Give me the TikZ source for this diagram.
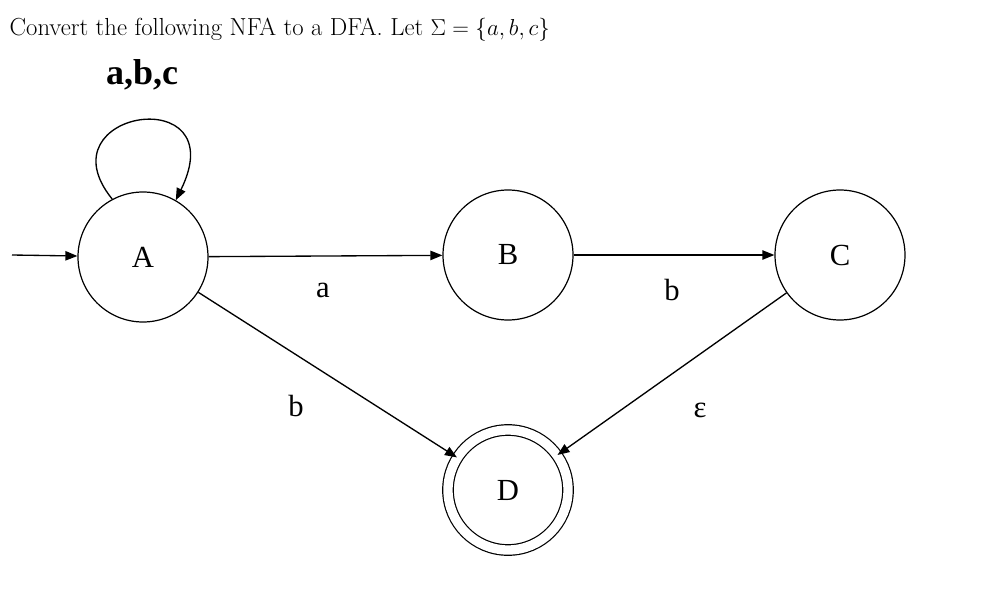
\documentclass[tikz,border=0pt]{standalone}
\usepackage{fontspec}
\newfontfamily\tf{Liberation Serif}
\usetikzlibrary{arrows.meta}
\begin{document}
\begin{tikzpicture}[x=0.75pt,y=-0.75pt,
  st/.style={circle,draw,line width=0.9pt,minimum size=97.5pt,inner sep=0pt,font=\tf\fontsize{23}{25}\selectfont},
  lb/.style={font=\tf\fontsize{23}{25}\selectfont},
  ed/.style={line width=1pt,-{Triangle[length=9pt,width=7pt]}}]
\useasboundingbox (0,0) rectangle (1003,603);
\node[anchor=west,font=\fontsize{18.5}{20}\selectfont] (t) at (5,30) {Convert the following NFA to a DFA. Let $\Sigma=\{a,b,c\}$};
\node[st] (A) at (143,257) {A};
\node[st] (B) at (508,255) {B};
\node[st] (C) at (840,255) {C};
\node[st,double,double distance=7pt,minimum size=90pt] (D) at (508,490) {D};
\coordinate (s) at (12,255);
\draw[ed] (s) -- (A);
\draw[ed] (A) -- (B);
\draw[ed] (B) -- (C);
\draw[ed] (A) -- (D);
\draw[ed] (C) -- (D);
\draw[ed] (A.118) .. controls (40,110) and (235,80) .. (A.60);
\node[lb,font=\tf\bfseries\fontsize{27}{29}\selectfont] (l0) at (142,75) {a,b,c};
\node[lb] (l1) at (323,290) {a};
\node[lb] (l2) at (672,290) {b};
\node[lb] (l3) at (296,406) {b};
\node[lb] (l4) at (700,410) {ε};
\end{tikzpicture}
\end{document}
